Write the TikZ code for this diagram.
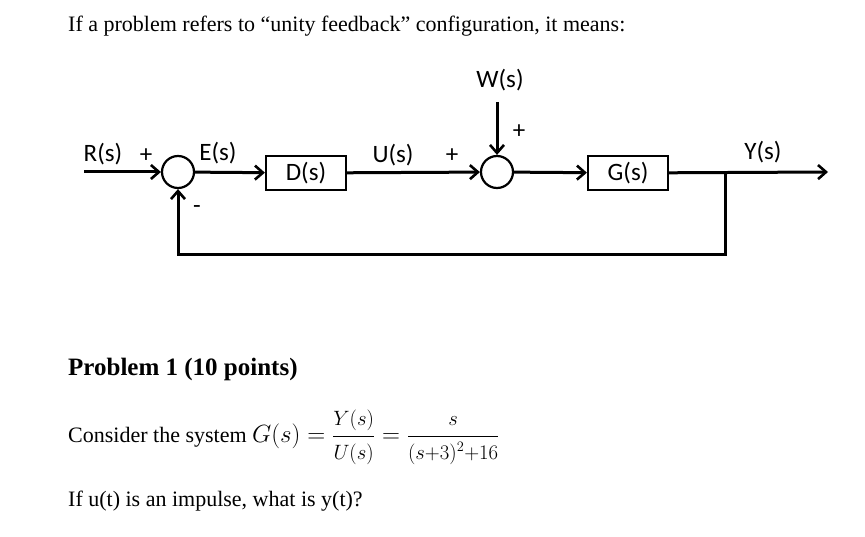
\documentclass[tikz,border=0pt]{standalone}
\usepackage{fontspec}
\setmainfont{Liberation Serif}
\newfontfamily\diag{Carlito}
\usetikzlibrary{arrows.meta}
\begin{document}
\begin{tikzpicture}[x=1pt,y=-1pt,
  line/.style={line width=3pt},
  arr/.style={line, -{Straight Barb[length=8pt,width=14pt,line width=2.6pt]}},
  blk/.style={draw, line width=2.2pt, minimum width=80pt, minimum height=34pt, font=\diag\fontsize{25}{27}\selectfont},
  sum/.style={draw, circle, line width=2.2pt, minimum size=32pt, inner sep=0pt},
  lbl/.style={font=\diag\fontsize{25}{27}\selectfont, inner sep=0pt},
  txt/.style={anchor=base west, inner sep=0pt, font=\fontsize{22}{26}\selectfont}]
\useasboundingbox (0,0) rectangle (865,537);
\node[txt] (title) at (68,32) {If a problem refers to “unity feedback” configuration, it means:};

% block diagram
\coordinate (in) at (84,172);
\node[sum] (s1) at (178,172) {};
\node[blk] (d) at (306,173) {D(s)};
\node[sum] (s2) at (497,172) {};
\node[blk] (g) at (628,173) {G(s)};
\coordinate (out) at (828,172);
\coordinate (br) at (725,172);
\coordinate (fb1) at (725,255);
\coordinate (fb2) at (178,255);
\coordinate (w) at (497,102);
\draw[arr] (in) -- (s1);
\draw[arr] (s1) -- (d);
\draw[arr] (d) -- (s2);
\draw[arr] (s2) -- (g);
\draw[arr] (g) -- (out);
\draw[arr] (br) -- (fb1) -- (fb2) -- (s1);
\draw[arr] (w) -- (s2);
\node[lbl] (lr) at (103,154) {R(s)};
\node[lbl] (lp1) at (146,156) {+};
\node[lbl] (le) at (218,153) {E(s)};
\node[lbl] (lu) at (393,155) {U(s)};
\node[lbl] (lp2) at (452,156) {+};
\node[lbl] (lp3) at (519,132) {+};
\node[lbl] (lw) at (500,80) {W(s)};
\node[lbl] (ly) at (763,152) {Y(s)};
\node[lbl] (lm) at (197,210) {-};

% problem text
\node[txt, font=\bfseries\fontsize{25}{29}\selectfont] (p1) at (68,375) {Problem 1 (10 points)};
\node[txt] (eq) at (68,442) {Consider the system
  {\fontsize{28}{32}\selectfont$\displaystyle G(s)=\frac{\hbox{\fontsize{20}{24}\selectfont$Y(s)$}}{\hbox{\fontsize{20}{24}\selectfont$U(s)$}}=\frac{\hbox{\fontsize{20}{24}\selectfont$s$}}{\hbox{\fontsize{20}{24}\selectfont$(s{+}3)^2{+}16$}}$}};
\node[txt] (q) at (68,506) {If u(t) is an impulse, what is y(t)?};
\end{tikzpicture}
\end{document}
